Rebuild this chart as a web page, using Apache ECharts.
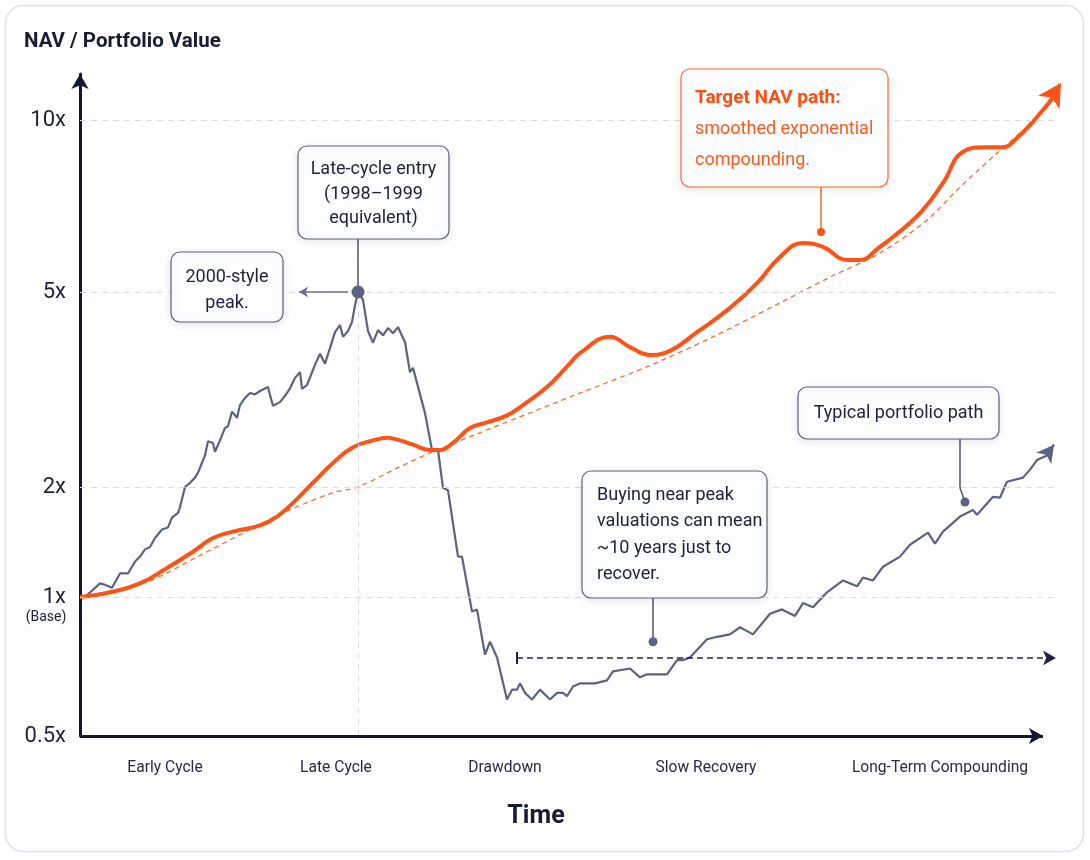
<!DOCTYPE html>
<html>
<head>
<meta charset="utf-8">
<title>NAV / Portfolio Value</title>
<script src="https://cdn.jsdelivr.net/npm/echarts@6/dist/echarts.min.js"></script>
<style>
  html, body { margin: 0; padding: 0; background: #ffffff; }
  #chart { width: 1090px; height: 860px; }
</style>
</head>
<body>
<div id="chart"></div>
<script>
// y ticks (multiples of the starting NAV) and where the picture puts them
const tickValues = [0.5, 1, 2, 5, 10];
const tickLabels = ['0.5x', '1x', '2x', '5x', '10x'];
const tickLevels = [0, 139, 249, 444, 616];

// x phases (time units 0..~98)
const phaseTimes = [8.5, 25.6, 42.5, 62.6, 86];
const phaseLabels = ['Early Cycle', 'Late Cycle', 'Drawdown', 'Slow Recovery', 'Long-Term Compounding'];

// [time, multiple]
const portfolioPath = [
  [0.5, 1.00], [2, 1.09], [2.5, 1.08], [3.2, 1.06], [4, 1.16], [4.8, 1.16], [5.5, 1.25], [6, 1.29],
  [6.5, 1.35], [7, 1.37], [7.5, 1.45], [8.2, 1.53], [8.8, 1.55], [9.2, 1.65], [9.8, 1.70], [10, 1.76],
  [10.5, 2.00], [11, 2.04], [11.5, 2.09], [11.8, 2.14], [12.5, 2.32], [12.8, 2.48], [13.3, 2.46], [13.5, 2.36],
  [14, 2.49], [14.5, 2.64], [14.8, 2.66], [15.2, 2.85], [15.7, 2.77], [16, 2.94], [16.5, 3.04], [17, 3.11],
  [17.5, 3.09], [18, 3.14], [18.8, 3.20], [19, 3.08], [19.3, 2.93], [20, 2.98], [20.5, 3.07], [21, 3.18],
  [21.5, 3.34], [22, 3.43], [22.2, 3.17], [22.7, 3.23], [23.5, 3.55], [24, 3.74], [24.5, 3.57], [25, 3.84],
  [25.5, 4.14], [26, 4.28], [26.3, 4.05], [26.8, 4.16], [27.2, 4.34], [27.5, 4.70], [27.8, 5.00], [28.3, 4.82],
  [28.8, 4.16], [29.3, 3.94], [29.8, 4.18], [30.3, 4.08], [30.8, 4.22], [31.3, 4.12], [31.8, 4.24], [32.5, 3.95],
  [33, 3.43], [33.3, 3.50], [34.5, 2.83], [35.2, 2.38], [35.8, 2.38], [36.3, 1.99], [36.8, 1.96], [37.8, 1.29],
  [38.2, 1.29], [39.2, 0.93], [39.7, 0.94], [40.5, 0.75], [41, 0.80], [41.7, 0.74], [42.7, 0.60], [43.2, 0.63],
  [43.7, 0.63], [44, 0.65], [44.5, 0.62], [45.2, 0.60], [46, 0.63], [47, 0.60], [47.7, 0.62], [48.3, 0.62],
  [48.7, 0.61], [49.3, 0.64], [50, 0.65], [51.5, 0.65], [52.7, 0.66], [53.3, 0.69], [55, 0.70], [56, 0.67],
  [56.7, 0.68], [58, 0.68], [58.7, 0.68], [59.7, 0.73], [60.3, 0.73], [61, 0.74], [62.7, 0.81], [63.7, 0.82],
  [65, 0.83], [66, 0.86], [67.3, 0.83], [69, 0.92], [70.2, 0.94], [71.5, 0.91], [72.3, 0.97], [73.3, 0.95],
  [74.7, 1.03], [76.3, 1.11], [77.7, 1.07], [78.3, 1.13], [79.3, 1.11], [80.3, 1.21], [82, 1.29], [83, 1.39],
  [84.8, 1.50], [85.5, 1.40], [86.3, 1.51], [88, 1.66], [89.3, 1.73], [89.7, 1.68], [91.3, 1.88], [92, 1.87],
  [92.7, 2.05], [94.3, 2.09], [95, 2.17], [95.7, 2.27], [96.7, 2.32], [97.4, 2.44]
];

const targetPath = [
  [0, 1.00], [3, 1.03], [6, 1.09], [8.7, 1.20], [11.3, 1.33], [13.3, 1.45], [15.3, 1.51], [18, 1.57],
  [19.7, 1.66], [21.3, 1.81], [23.3, 2.04], [25.3, 2.24], [27.3, 2.41], [29.3, 2.49], [30.7, 2.52], [32, 2.49],
  [33.3, 2.44], [35, 2.38], [36, 2.38], [37.3, 2.46], [39, 2.64], [40.7, 2.71], [42.7, 2.80], [44.3, 2.94],
  [46.7, 3.20], [48.7, 3.52], [50, 3.75], [53, 4.05], [55, 3.86], [57, 3.72], [58.7, 3.77], [61.7, 4.14],
  [65, 4.64], [67.7, 5.18], [70, 5.76], [72.3, 6.09], [74.3, 6.00], [76.7, 5.69], [78, 5.69], [80, 6.00],
  [81.3, 6.24], [84, 6.87], [86.3, 7.76], [88.3, 8.80], [90.5, 8.96], [92.2, 8.96], [93.7, 9.30], [95.7, 10.12],
  [97.3, 10.97], [98.1, 11.61]
];

const trendPath = [
  [0, 1.00], [6.7, 1.10], [12, 1.30], [17, 1.53], [20.3, 1.70], [25.3, 1.93], [27.8, 2.00], [32, 2.20],
  [35.7, 2.38], [50, 3.11], [56.7, 3.52], [63.3, 4.05], [70, 4.75], [75, 5.31], [80, 5.85], [84.7, 6.68],
  [88, 7.63], [91.3, 8.62], [94, 9.49], [95.7, 10.12], [97, 10.66]
];

// annotation anchors [time, multiple]
const peakPoint = [27.8, 5.0];
const peakArrowTo = [21.9, 5.0];
const targetNote = [74.1, 6.37];
const typicalNote = [88.5, 1.82];
const recoverNote = [57.3, 0.80];
const recoverySpan = [43.7, 97.6];
const recoveryLevel = 0.738;

const ink = '#1c2140';
const gray = '#5b6384';
const orange = '#ff5214';
const gridColor = '#d5dcec';
const fam = 'Roboto, "Noto Sans", sans-serif';

// the picture spaces its ticks unevenly; map a multiple onto that scale
function toLevel(v) {
  let i = 0;
  while (i < tickValues.length - 2 && v > tickValues[i + 1]) i++;
  const a = tickValues[i], b = tickValues[i + 1];
  return tickLevels[i] + (tickLevels[i + 1] - tickLevels[i]) * Math.log(v / a) / Math.log(b / a);
}

function toSeriesData(path, arrowSize, arrowRotate) {
  return path.map(([t, v], i) => {
    const item = { value: [t, toLevel(v)] };
    if (arrowSize && i === path.length - 1) {
      item.symbol = 'arrow';
      item.symbolSize = arrowSize;
      item.symbolRotate = arrowRotate;
    }
    return item;
  });
}

const chart = echarts.init(document.getElementById('chart'));

const option = {
  backgroundColor: '#ffffff',
  animation: false,
  title: {
    text: 'NAV / Portfolio Value',
    left: 24,
    top: 31,
    padding: 0,
    textStyle: { fontFamily: fam, fontSize: 20.5, fontWeight: 'bold', color: '#161b36' }
  },
  grid: { left: 80, right: 33, top: 74, bottom: 124 },
  xAxis: {
    type: 'value',
    min: 0,
    max: 97.7,
    axisLine: { show: false },
    axisTick: { show: false },
    splitLine: { show: false },
    axisLabel: {
      customValues: phaseTimes,
      formatter: (v) => phaseLabels[phaseTimes.indexOf(v)] || '',
      margin: 24,
      fontSize: 15.6,
      color: '#262b48',
      fontFamily: fam
    }
  },
  yAxis: {
    type: 'value',
    min: 0,
    max: 662,
    axisLine: {
      show: true,
      symbol: ['none', 'arrow'],
      symbolSize: [13, 15],
      lineStyle: { color: '#121833', width: 3 }
    },
    axisTick: { show: false },
    splitLine: { show: false },
    axisLabel: {
      customValues: tickLevels,
      formatter: (v) => tickLabels[tickLevels.indexOf(v)] || '',
      margin: 14,
      fontSize: 22,
      color: ink,
      fontFamily: fam
    }
  },
  series: [
    {
      // gridlines, peak guide and the time axis
      name: 'guides',
      type: 'line',
      data: [],
      z: 1,
      silent: true,
      markLine: {
        silent: true,
        animation: false,
        symbol: ['none', 'none'],
        label: { show: false },
        lineStyle: { color: gridColor, type: [6, 5], width: 1 },
        data: tickValues.slice(1).map((v) => ({ yAxis: toLevel(v) })).concat([
          [{ coord: [peakPoint[0], 0] }, { coord: [peakPoint[0], toLevel(peakPoint[1])] }],
          [
            { coord: [0, 0], lineStyle: { color: '#121833', type: 'solid', width: 3 } },
            { coord: [96.3, 0], symbol: 'arrow', symbolSize: [12, 14] }
          ]
        ])
      }
    },
    {
      name: 'Trend',
      type: 'line',
      data: toSeriesData(trendPath),
      smooth: 0.3,
      symbol: 'none',
      z: 2,
      lineStyle: { color: '#ff6a30', width: 1.3, type: [5, 4] }
    },
    {
      name: 'Typical portfolio path',
      type: 'line',
      data: toSeriesData(portfolioPath, [14, 17], -37),
      symbol: 'none',
      clip: false,
      z: 3,
      itemStyle: { color: gray },
      lineStyle: { color: gray, width: 2.2 },
      markLine: {
        silent: true,
        animation: false,
        symbol: ['none', 'none'],
        label: { show: false },
        data: [
          [
            { coord: [26.8, toLevel(peakPoint[1])], lineStyle: { color: '#6a7190', width: 1.5, type: 'solid' } },
            { coord: [peakArrowTo[0], toLevel(peakArrowTo[1])], symbol: 'arrow', symbolSize: [8, 9] }
          ],
          [
            { coord: [recoverySpan[0], toLevel(recoveryLevel)], symbol: 'rect', symbolSize: [12, 2],
              lineStyle: { color: '#1e2448', width: 1.6, type: [6, 4] } },
            { coord: [recoverySpan[1], toLevel(recoveryLevel)], symbol: 'arrow', symbolSize: [11, 13] }
          ]
        ]
      }
    },
    {
      name: 'Target NAV path',
      type: 'line',
      data: toSeriesData(targetPath, [19, 23], -32),
      smooth: 0.45,
      symbol: 'none',
      clip: false,
      z: 4,
      itemStyle: { color: orange },
      lineStyle: { color: orange, width: 4 }
    }
  ]
};

chart.setOption(option);

// annotations
const px = (p) => chart.convertToPixel({ gridIndex: 0 }, [p[0], toLevel(p[1])]);
const font = (size, weight) => (weight || 'normal') + ' ' + size + 'px ' + fam;

function box(x, y, w, h, stroke) {
  return {
    type: 'rect', z: 30,
    shape: { x: x, y: y, width: w, height: h, r: 9 },
    style: {
      fill: '#fcfdff', stroke: stroke || '#59607a', lineWidth: 1.2,
      shadowBlur: 8, shadowOffsetY: 2, shadowColor: 'rgba(30,40,80,0.12)'
    }
  };
}
function label(x, y, text, align, lineHeight, fill) {
  return {
    type: 'text', z: 31, x: x, y: y,
    style: { text: text, fill: fill || ink, font: font(18), align: align, verticalAlign: 'middle', lineHeight: lineHeight || 24 }
  };
}
function link(points, color) {
  return { type: 'polyline', z: 25, shape: { points: points }, style: { stroke: color || '#4f566f', lineWidth: 1.5, fill: null } };
}
function dot(p, r, color) {
  return { type: 'circle', z: 26, shape: { cx: p[0], cy: p[1], r: r }, style: { fill: color || gray } };
}

const peak = px(peakPoint);
const tgt = px(targetNote);
const typ = px(typicalNote);
const rec = px(recoverNote);

chart.setOption({
  graphic: [
    {
      type: 'rect', z: 0, silent: true,
      shape: { x: 5.5, y: 5.5, width: 1078, height: 846, r: 18 },
      style: { fill: null, stroke: '#dde3ee', lineWidth: 1.5 }
    },
    { type: 'text', z: 31, x: 46, y: 617, style: { text: '(Base)', fill: ink, font: font(14), align: 'center', verticalAlign: 'middle' } },
    { type: 'text', z: 31, x: 536, y: 817, style: { text: 'Time', fill: '#161b36', font: font(25, 'bold'), align: 'center', verticalAlign: 'middle' } },

    // late-cycle entry
    link([[peak[0], 239], [peak[0], peak[1]]]),
    box(298, 146, 151, 93),
    label(373.5, 194, 'Late-cycle entry\n(1998\u20131999\nequivalent)', 'center', 24.5),
    dot(peak, 6.5),

    // 2000-style peak
    box(171, 252, 112, 70),
    label(227, 290, '2000-style\npeak.', 'center', 26),

    // target path
    link([[tgt[0], 187], [tgt[0], tgt[1]]], '#ff6a33'),
    box(681, 69, 207, 118, '#ff6a33'),
    {
      type: 'text', z: 31, x: 695, y: 129,
      style: {
        text: '{b|Target NAV path:}\n{n|smoothed exponential}\n{n|compounding.}',
        align: 'left', verticalAlign: 'middle',
        rich: {
          b: { fill: '#ff4d10', fontFamily: fam, fontSize: 19, fontWeight: 'bold', lineHeight: 31 },
          n: { fill: '#ff5a1e', fontFamily: fam, fontSize: 18, lineHeight: 31 }
        }
      }
    },
    dot(tgt, 4, orange),

    // typical path
    link([[960, 439], [960, typ[1] - 14], [typ[0], typ[1]]]),
    box(798, 387, 201, 52),
    label(898.5, 413, 'Typical portfolio path', 'center'),
    dot(typ, 4.5),

    // recovery note
    link([[rec[0], 598], [rec[0], rec[1]]]),
    box(582, 471, 185, 127),
    label(597, 535, 'Buying near peak\nvaluations can mean\n~10 years just to\nrecover.', 'left', 26.6),
    dot(rec, 4.5)
  ]
});
</script>
</body>
</html>
